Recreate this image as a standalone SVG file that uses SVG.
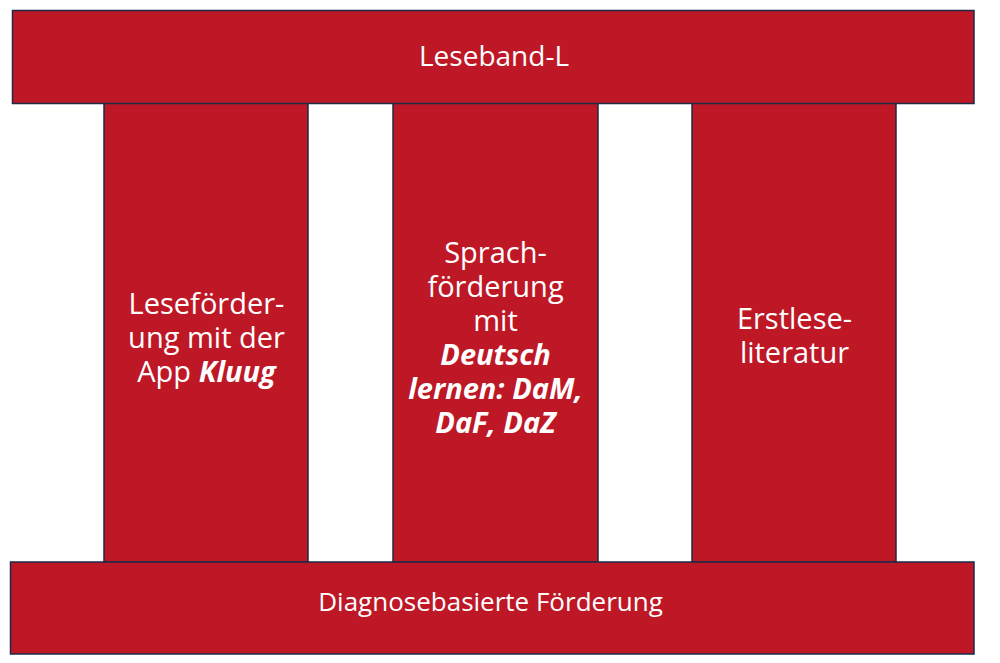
<svg xmlns="http://www.w3.org/2000/svg" width="1000" height="663" viewBox="0 0 1000 663">
<style>
.box{fill:#BE1826;stroke:#1E2A48;stroke-width:1.5}
.t{font-family:"Open Sans","Noto Sans",sans-serif;fill:#ffffff;text-anchor:middle;font-size:29px}
.b{font-weight:bold;font-style:italic}
</style>
<rect width="1000" height="663" fill="#ffffff"/>
<g id="pillar-kluug">
<rect class="box" x="104" y="103" width="204" height="459"/>
<text class="t" x="206.5" y="314">Leseförder-</text>
<text class="t" x="206.5" y="348">ung mit der</text>
<text class="t" x="206.5" y="382">App <tspan class="b">Kluug</tspan></text>
</g>
<g id="pillar-sprach">
<rect class="box" x="393" y="103" width="205" height="459"/>
<text class="t" x="495.5" y="263">Sprach-</text>
<text class="t" x="495.5" y="297">förderung</text>
<text class="t" x="495.5" y="331">mit</text>
<text class="t b" x="495.5" y="365">Deutsch</text>
<text class="t b" x="495.5" y="399">lernen: DaM,</text>
<text class="t b" x="495.5" y="433">DaF, DaZ</text>
</g>
<g id="pillar-erstlese">
<rect class="box" x="692" y="103" width="204" height="459"/>
<text class="t" x="794.5" y="329">Erstlese-</text>
<text class="t" x="794.5" y="363">literatur</text>
</g>
<g id="top-bar">
<rect class="box" x="12.5" y="10.5" width="961.5" height="93"/>
<text class="t" x="494" y="66" style="font-size:28px">Leseband-L</text>
</g>
<g id="bottom-bar">
<rect class="box" x="10.5" y="562" width="963.5" height="92"/>
<text class="t" x="490.5" y="611" style="font-size:26px">Diagnosebasierte Förderung</text>
</g>
<g id="connectors"></g>
</svg>
